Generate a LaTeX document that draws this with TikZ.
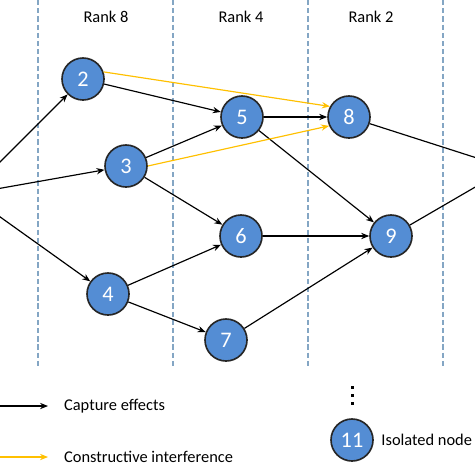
\documentclass[tikz,border=0pt]{standalone}
\usepackage{fontspec}
\setmainfont{Carlito}
\usetikzlibrary{arrows.meta}

\definecolor{nodeblue}{RGB}{84,141,212}
\definecolor{gold}{RGB}{255,192,0}
\definecolor{rankgray}{RGB}{132,166,196}

\begin{document}
\begin{tikzpicture}[x=0.03cm, y=-0.03cm,
  vertex/.style={circle, draw=black!85, line width=1.4pt, fill=nodeblue,
                 minimum size=1.26cm, inner sep=0pt, text=white,
                 font=\fontsize{19}{19}\selectfont},
  capture/.style={black, line width=1pt, -{Stealth[length=2.4mm,width=1.9mm]}},
  construct/.style={gold, line width=1pt, -{Stealth[length=2.4mm,width=1.9mm]}},
  rankline/.style={rankgray, line width=1.2pt, dash pattern=on 4.5pt off 2.5pt},
  heading/.style={font=\fontsize{14}{14}\selectfont}]
\useasboundingbox (0,0) rectangle (474,474);

% rank columns
\draw[rankline] (38,0)  -- (38,369);
\draw[rankline] (173,0) -- (173,369);
\draw[rankline] (308,0) -- (308,369);
\draw[rankline] (443,0) -- (443,369);

% Heading
\node[heading] (rank8) at (106,17) {Rank 8};
\node[heading] (rank4) at (241,17) {Rank 4};
\node[heading] (rank2) at (371,17) {Rank 2};

% nodes (n1 and n10 lie outside the page)
\node[vertex] (n1)  at (-32,194) {};
\node[vertex] (n2)  at (83,79)   {2};
\node[vertex] (n3)  at (126,166) {3};
\node[vertex] (n4)  at (108,294) {4};
\node[vertex] (n5)  at (242,117) {5};
\node[vertex] (n6)  at (241,236) {6};
\node[vertex] (n7)  at (226,340) {7};
\node[vertex] (n8)  at (349,117) {8};
\node[vertex] (n9)  at (391,236) {9};
\node[vertex] (n10) at (508,168) {};

%------------------------------------------------------
% black
\draw[capture] (n1) -- (n2);
\draw[capture] (n1) -- (n3);
\draw[capture] (n1) -- (n4);
\draw[capture] (n2) -- (n5);
\draw[capture] (n3) -- (n5);
\draw[capture] (n3) -- (n6);
\draw[capture] (n4) -- (n6);
\draw[capture] (n4) -- (n7);
\draw[capture] (n5) -- (n8);
\draw[capture] (n5) -- (n9);
\draw[capture] (n6) -- (n9);
\draw[capture] (n7) -- (n9);
\draw[capture] (n8) -- (n10);
\draw[capture] (n9) -- (n10);

% yellow
\draw[construct] (n2.19) -- (n8.151);
\draw[construct] (n3.0)  -- (n8.204);

%------------------------------------------------------
% legend
\coordinate (capA) at (-2,406);
\coordinate (capB) at (48,406);
\draw[capture] (capA) -- (capB);
\node[heading, anchor=west] (captxt) at (60,406) {Capture effects};

\coordinate (conA) at (-2,457);
\coordinate (conB) at (48,457);
\draw[construct] (conA) -- (conB);
\node[heading, anchor=west] (contxt) at (60,457) {Constructive interference};

% isolated node
\foreach \y in {387,395,403}
  \fill (350.5,\y-1.5) rectangle +(3,3);
\node[vertex] (n11) at (352,440) {11};
\node[heading, anchor=west] (isotxt) at (n11.east) [xshift=3pt] {Isolated node};

\end{tikzpicture}
\end{document}
